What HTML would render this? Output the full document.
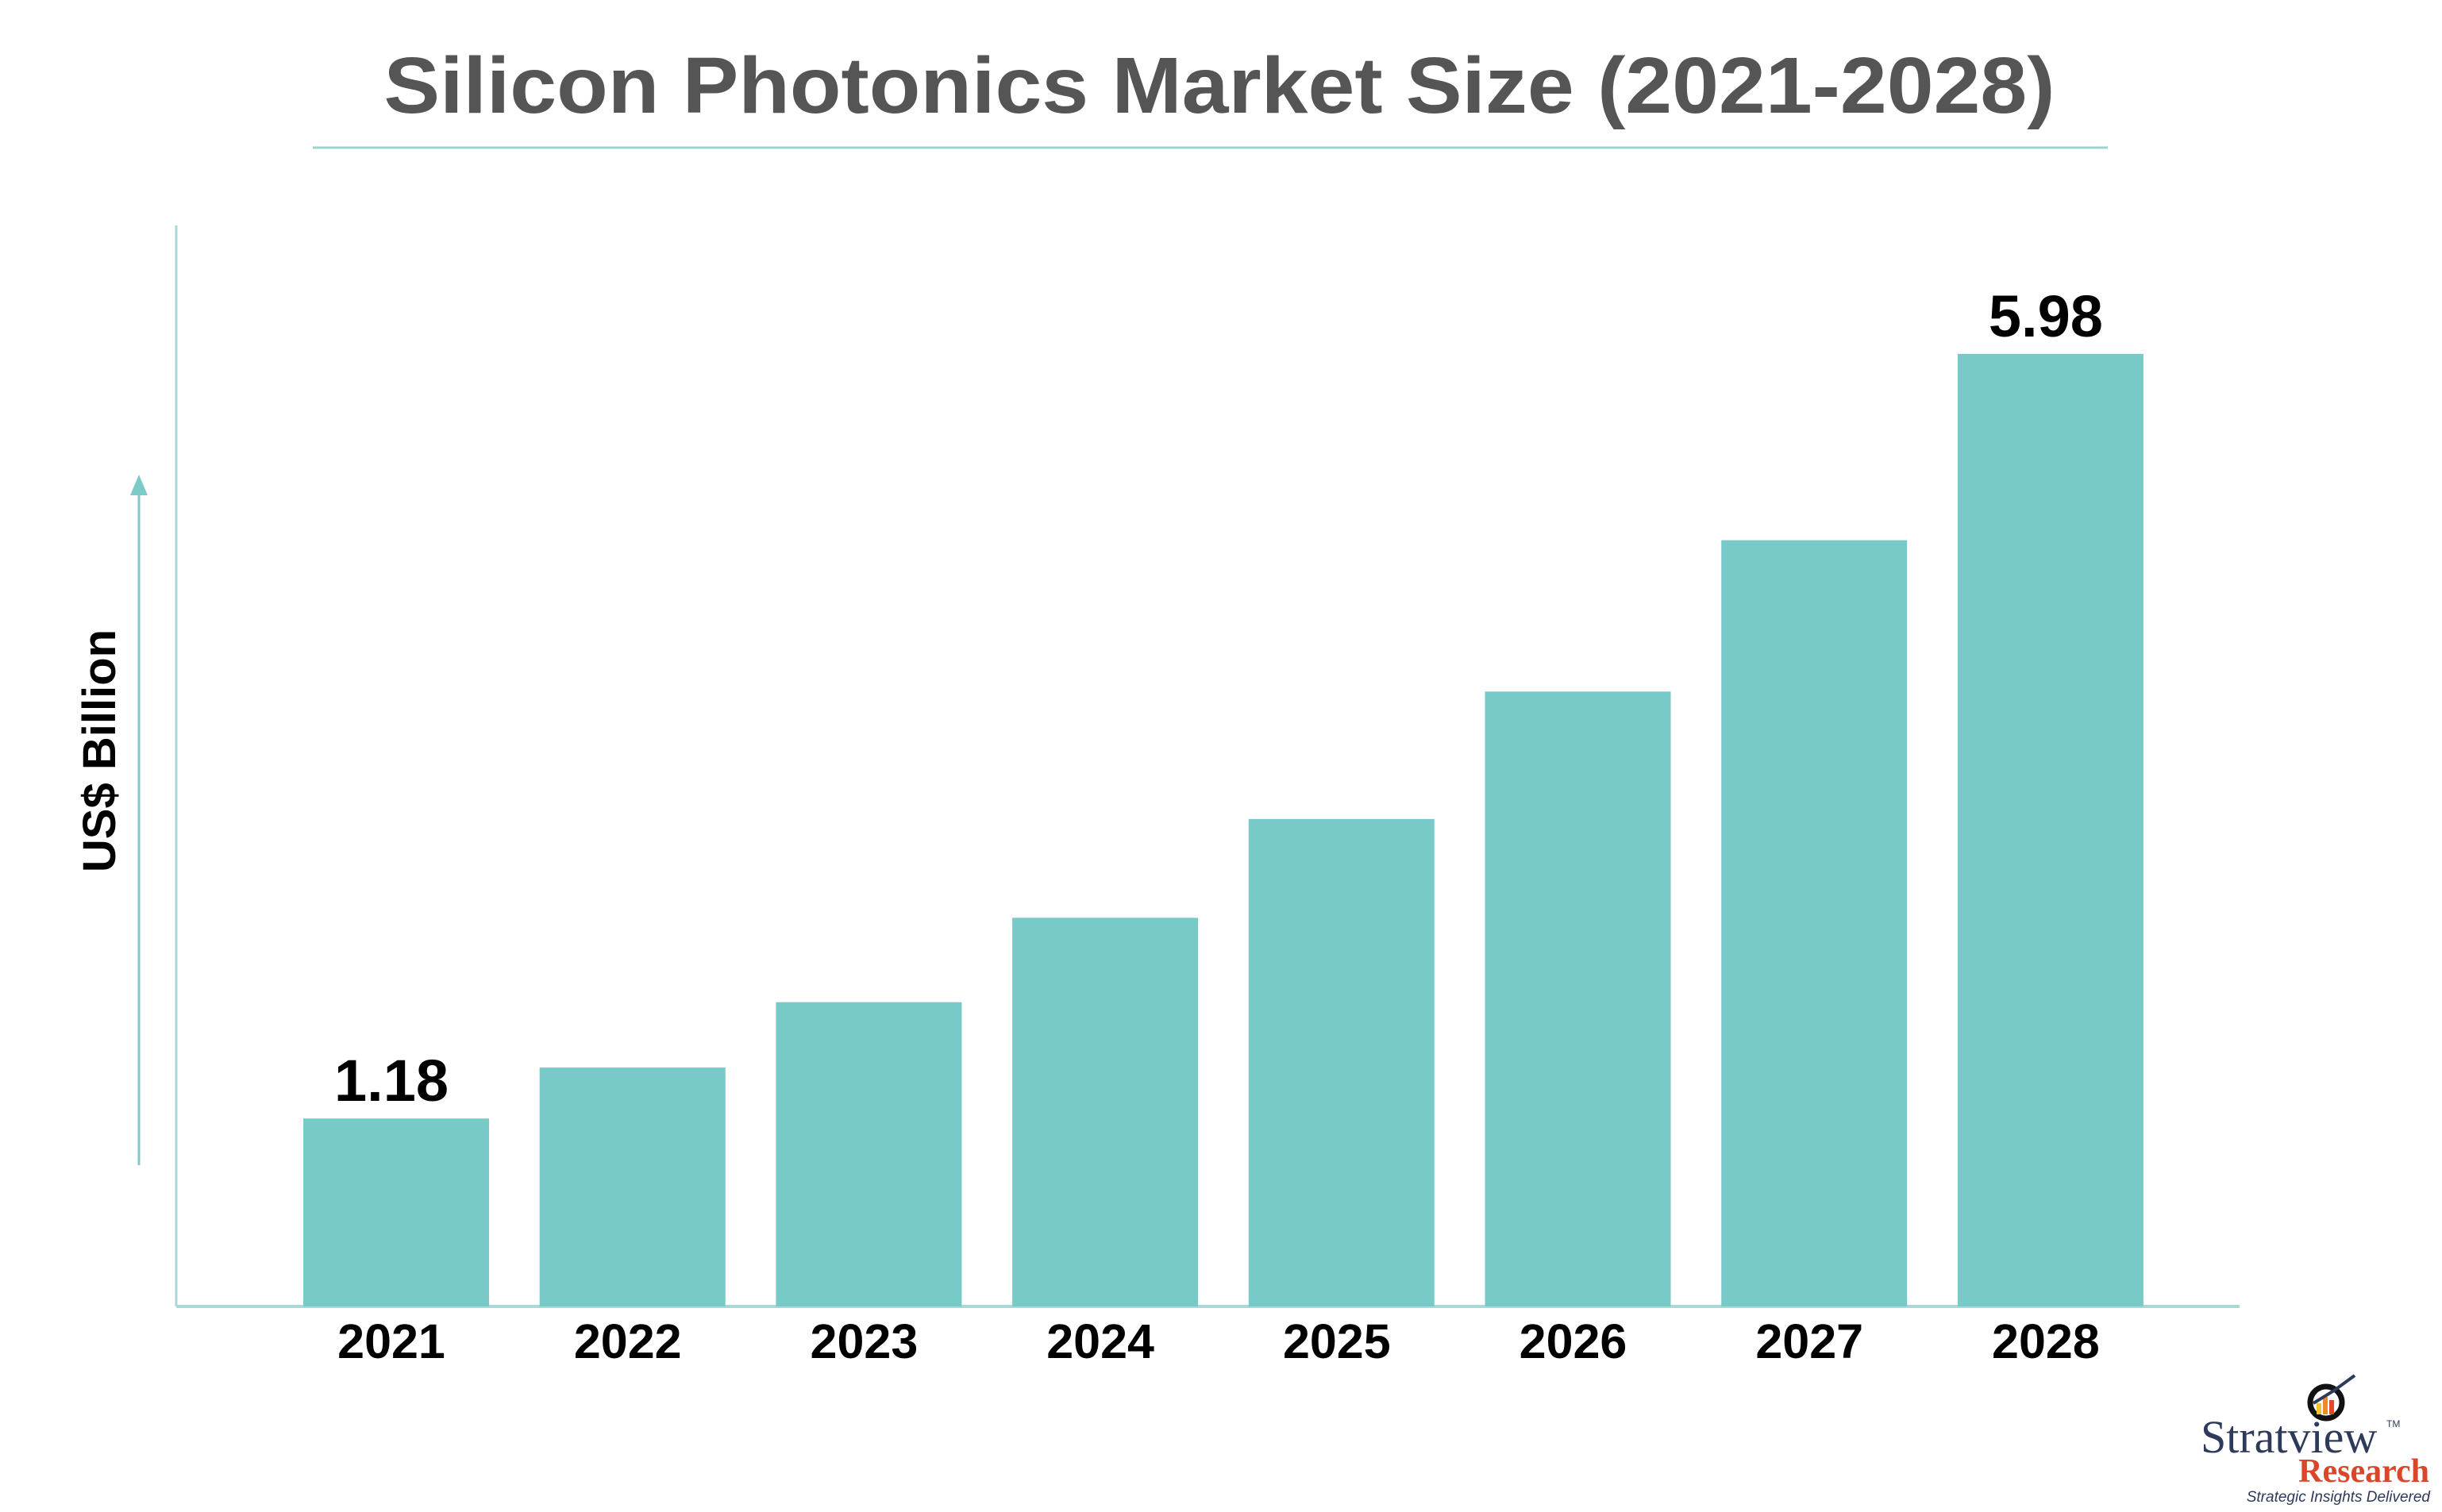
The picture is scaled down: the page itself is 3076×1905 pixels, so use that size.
<!DOCTYPE html>
<html><head><meta charset="utf-8"><style>
html,body{margin:0;padding:0;background:#fff;}
svg{display:block;}
</style></head><body>
<svg width="3076" height="1905" viewBox="0 0 3076 1905" xmlns="http://www.w3.org/2000/svg">
<text x="1536" y="142" text-anchor="middle" font-family="Liberation Sans, sans-serif" font-weight="bold" font-size="100" fill="#555" textLength="2105" lengthAdjust="spacingAndGlyphs">Silicon Photonics Market Size (2021-2028)</text>
<line x1="394" y1="186" x2="2655" y2="186" stroke="#9fd3d2" stroke-width="3"/>
<line x1="222" y1="284" x2="222" y2="1646" stroke="#a9d8d7" stroke-width="3"/>
<line x1="222" y1="1646" x2="2821" y2="1646" stroke="#a9d8d7" stroke-width="4"/>
<line x1="175" y1="620" x2="175" y2="1468" stroke="#7ccbc8" stroke-width="3"/>
<polygon points="175,598 164,624 186,624" fill="#7ccbc8"/>
<text transform="translate(145,946) rotate(-90)" text-anchor="middle" font-family="Liberation Sans, sans-serif" font-weight="bold" font-size="58" fill="#000">US$ Billion</text>
<g id="bars"></g>
<g>
<circle cx="2930" cy="1767" r="20" fill="none" stroke="#111" stroke-width="7"/>
<rect x="2918" y="1768" width="6" height="14" fill="#f2c230"/><rect x="2926" y="1760" width="6" height="22" fill="#ef8a2a"/><rect x="2934" y="1764" width="6" height="18" fill="#e04a2a"/>
<polyline points="2914,1768 2940,1752 2966,1733" fill="none" stroke="#2d3a5a" stroke-width="4"/>
<text x="2772" y="1830" font-family="Liberation Serif, serif" font-size="58" fill="#2d3a5a">Stratview</text>
<text x="3006" y="1798" font-family="Liberation Sans, sans-serif" font-size="12" fill="#2d3a5a">TM</text>
<text x="3060" y="1867" text-anchor="end" font-family="Liberation Serif, serif" font-weight="bold" font-size="42" fill="#d9472b">Research</text>
<text x="3061" y="1892" text-anchor="end" font-family="Liberation Sans, sans-serif" font-style="italic" font-size="19" fill="#2d3a5a">Strategic Insights Delivered</text>
</g>
</svg>
<script>
const categories = ["2021","2022","2023","2024","2025","2026","2027","2028"];
const values = [1.18, 1.50, 1.91, 2.44, 3.06, 3.86, 4.81, 5.98];
const valueLabels = ["1.18", "", "", "", "", "", "", "5.98"];
const NS = "http://www.w3.org/2000/svg";
const baseY = 1646, pxPerUnit = 200.7, x0 = 382, pitch = 297.7, bw = 234;
const xPos = i => x0 + i * pitch;
const yPos = v => baseY - v * pxPerUnit;
const g = document.getElementById('bars');
categories.forEach((c, i) => {
  const r = document.createElementNS(NS, 'rect');
  r.setAttribute('x', xPos(i));
  r.setAttribute('y', yPos(values[i]));
  r.setAttribute('width', bw);
  r.setAttribute('height', baseY - yPos(values[i]));
  r.setAttribute('fill', '#78cac8');
  
  
  g.appendChild(r);
  const t = document.createElementNS(NS, 'text');
  t.setAttribute('x', xPos(i) + bw / 2 - 6);
  t.setAttribute('y', 1711);
  t.setAttribute('text-anchor', 'middle');
  t.setAttribute('font-family', 'Liberation Sans, sans-serif');
  t.setAttribute('font-weight', 'bold');
  t.setAttribute('font-size', '61');
  t.textContent = c;
  
  
  g.appendChild(t);
  if (valueLabels[i]) {
    const v = document.createElementNS(NS, 'text');
    v.setAttribute('x', xPos(i) + bw / 2 - 6);
    v.setAttribute('y', yPos(values[i]) - 22);
    v.setAttribute('text-anchor', 'middle');
    v.setAttribute('font-family', 'Liberation Sans, sans-serif');
    v.setAttribute('font-weight', 'bold');
    v.setAttribute('font-size', '74');
    v.textContent = valueLabels[i];
    
    
    g.appendChild(v);
  }
});
</script>
</body></html>
